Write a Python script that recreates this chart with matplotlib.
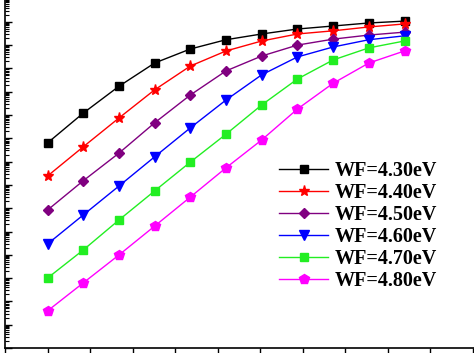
import matplotlib
matplotlib.use("Agg")
import matplotlib.pyplot as plt
from matplotlib.ticker import LogLocator, MultipleLocator, NullFormatter

# gate voltage steps (x) and drain current for each work function
vg = [0.0, 0.21, 0.42, 0.63, 0.84, 1.05, 1.26, 1.47, 1.68, 1.89, 2.10]

i_430 = [6.3e-8, 1.2e-6, 1.7e-5, 1.7e-4, 6.8e-4, 1.7e-3, 3.0e-3, 4.9e-3, 6.6e-3, 8.9e-3, 1.07e-2]
i_440 = [2.4e-9, 4.3e-8, 7.4e-7, 1.2e-5, 1.26e-4, 5.6e-4, 1.5e-3, 3.0e-3, 4.1e-3, 6.0e-3, 8.1e-3]
i_450 = [8.3e-11, 1.5e-9, 2.3e-8, 4.6e-7, 7.2e-6, 7.8e-5, 3.4e-4, 1.0e-3, 1.8e-3, 2.7e-3, 3.6e-3]
i_460 = [2.9e-12, 5.1e-11, 8.9e-10, 1.6e-8, 2.8e-7, 4.4e-6, 5.3e-5, 3.1e-4, 8.3e-4, 1.7e-3, 2.5e-3]
i_470 = [1.0e-13, 1.6e-12, 3.1e-11, 5.5e-10, 9.5e-9, 1.5e-7, 2.7e-6, 3.5e-5, 2.3e-4, 7.6e-4, 1.5e-3]
i_480 = [3.9e-15, 6.2e-14, 9.8e-13, 1.7e-11, 3.0e-10, 5.4e-9, 8.5e-8, 1.8e-6, 2.3e-5, 1.7e-4, 5.6e-4]

labels = ["WF=4.30eV", "WF=4.40eV", "WF=4.50eV", "WF=4.60eV", "WF=4.70eV", "WF=4.80eV"]
colors = ["black", "#ff0000", "#800080", "#0000ff", "#22ee22", "#ff00ff"]
markers = ["s", "*", "D", "v", "s", "p"]
msizes = [5.5, 8, 5.5, 6.5, 5.5, 7]

plt.rcParams['font.family'] = ['Liberation Serif', 'DejaVu Serif']

fig = plt.figure(figsize=(4.74, 3.53), dpi=100)
# axes runs past the top and right edge: the reference is a crop
ax = fig.add_axes([5 / 474, 5 / 353, 510 / 474, 372.8 / 353])

series = [i_430, i_440, i_450, i_460, i_470, i_480]
for ys, lab, c, m, ms in zip(series, labels, colors, markers, msizes):
    ax.plot(vg, ys, color=c, marker=m, markersize=ms, linewidth=1.0, label=lab)

ax.set_yscale("log")
ax.set_ylim(1e-16, 1e0)
ax.set_xlim(-0.25, 2.75)
ax.xaxis.set_major_locator(MultipleLocator(0.5))
ax.xaxis.set_minor_locator(MultipleLocator(0.25))
ax.yaxis.set_major_locator(LogLocator(base=10, numticks=30))
ax.yaxis.set_minor_locator(LogLocator(base=10, subs=range(2, 10), numticks=30))
ax.yaxis.set_minor_formatter(NullFormatter())
ax.tick_params(axis="x", which="major", direction="out", length=6, width=1)
ax.tick_params(axis="x", which="minor", direction="out", length=3.5, width=1)
ax.tick_params(axis="y", which="major", direction="in", length=5, width=1)
ax.tick_params(axis="y", which="minor", direction="in", length=3, width=0.8)
ax.tick_params(labelbottom=False, labelleft=False)
for s in ax.spines.values():
    s.set_linewidth(1.2)

ax.legend(loc="center left", bbox_to_anchor=(269 / 474, 1 - 226 / 353),
          bbox_transform=fig.transFigure, frameon=False,
          prop={"weight": "bold", "size": 14.5}, handlelength=2.45,
          labelspacing=0.1, handletextpad=0.3, borderpad=0)

fig.savefig("out.png", dpi=100)
